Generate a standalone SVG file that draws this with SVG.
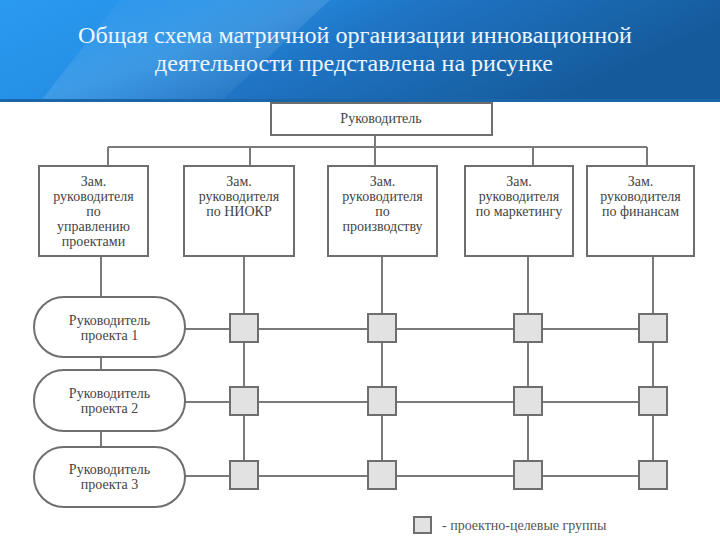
<svg xmlns="http://www.w3.org/2000/svg" width="720" height="540" viewBox="0 0 720 540">
<defs>
<linearGradient id="hdr" x1="0" y1="0" x2="1" y2="0.3">
<stop offset="0" stop-color="#2a9af0"/>
<stop offset="0.3" stop-color="#2590e6"/>
<stop offset="0.55" stop-color="#1f74c4"/>
<stop offset="1" stop-color="#155a9a"/>
</linearGradient>
<linearGradient id="shine" x1="0" y1="0" x2="1" y2="1">
<stop offset="0" stop-color="#ffffff" stop-opacity="0"/>
<stop offset="0.5" stop-color="#ffffff" stop-opacity="0.12"/>
<stop offset="1" stop-color="#ffffff" stop-opacity="0"/>
</linearGradient>
<style>
.box{fill:#fff;stroke:#6e6e6e;stroke-width:2}
.pill{fill:#fff;stroke:#6e6e6e;stroke-width:2}
.sq{fill:#e2e2e2;stroke:#6e6e6e;stroke-width:2}
.ln{stroke:#7a7a7a;stroke-width:2;fill:none}
text{font-family:'Liberation Serif','Times New Roman','DejaVu Serif',serif}
.t{font-size:14px;fill:#444;text-anchor:middle}
.tp{font-size:14px;fill:#444;text-anchor:middle}
.title{font-size:23px;fill:#eef6ff;text-anchor:middle}
</style>
</defs>
<rect x="0" y="0" width="720" height="540" fill="#ffffff"/>
<g id="header">
<rect x="0" y="0" width="720" height="102" fill="url(#hdr)"/>
<polygon points="120,0 330,0 220,102 40,102" fill="url(#shine)"/>
<rect x="0" y="99" width="720" height="3" fill="#1a66a8"/>
<text class="title" x="355" y="43" textLength="554" lengthAdjust="spacingAndGlyphs">Общая схема матричной организации инновационной</text>
<text class="title" x="354" y="71" textLength="398" lengthAdjust="spacingAndGlyphs">деятельности представлена на рисунке</text>
</g>
<g id="connectors">
<line class="ln" x1="375" y1="135" x2="375" y2="147"/>
<line class="ln" x1="108" y1="147" x2="647" y2="147"/>
<line class="ln" x1="108" y1="147" x2="108" y2="166"/>
<line class="ln" x1="250" y1="147" x2="250" y2="166"/>
<line class="ln" x1="375" y1="147" x2="375" y2="166"/>
<line class="ln" x1="533" y1="147" x2="533" y2="166"/>
<line class="ln" x1="647" y1="147" x2="647" y2="166"/>
<line class="ln" x1="101" y1="256" x2="101" y2="297"/>
<line class="ln" x1="101" y1="357" x2="101" y2="370"/>
<line class="ln" x1="101" y1="431" x2="101" y2="447"/>
<line class="ln" x1="244" y1="256" x2="244" y2="475"/>
<line class="ln" x1="382" y1="256" x2="382" y2="475"/>
<line class="ln" x1="528" y1="256" x2="528" y2="475"/>
<line class="ln" x1="653" y1="256" x2="653" y2="475"/>
<line class="ln" x1="185" y1="329" x2="653" y2="329"/>
<line class="ln" x1="185" y1="402" x2="653" y2="402"/>
<line class="ln" x1="185" y1="476" x2="653" y2="476"/>
</g>
<g id="head">
<rect class="box" x="271" y="103" width="221" height="32"/>
<text class="t" x="381" y="123">Руководитель</text>
</g>
<g id="dep1">
<rect class="box" x="39" y="166" width="109" height="90"/>
<text class="t" x="93.5" y="186">Зам.</text>
<text class="t" x="93.5" y="201">руководителя</text>
<text class="t" x="93.5" y="216">по</text>
<text class="t" x="93.5" y="231">управлению</text>
<text class="t" x="93.5" y="246">проектами</text>
</g>
<g id="dep2">
<rect class="box" x="184" y="166" width="110" height="90"/>
<text class="t" x="239" y="186">Зам.</text>
<text class="t" x="239" y="201">руководителя</text>
<text class="t" x="239" y="216">по НИОКР</text>
</g>
<g id="dep3">
<rect class="box" x="328" y="166" width="109" height="90"/>
<text class="t" x="382.5" y="186">Зам.</text>
<text class="t" x="382.5" y="201">руководителя</text>
<text class="t" x="382.5" y="216">по</text>
<text class="t" x="382.5" y="231">производству</text>
</g>
<g id="dep4">
<rect class="box" x="465" y="166" width="108" height="90"/>
<text class="t" x="519" y="186">Зам.</text>
<text class="t" x="519" y="201">руководителя</text>
<text class="t" x="519" y="216">по маркетингу</text>
</g>
<g id="dep5">
<rect class="box" x="587" y="166" width="107" height="90"/>
<text class="t" x="640.5" y="186">Зам.</text>
<text class="t" x="640.5" y="201">руководителя</text>
<text class="t" x="640.5" y="216">по финансам</text>
</g>
<g id="pm1">
<rect class="pill" x="34" y="297" width="151" height="60" rx="30" ry="30"/>
<text class="tp" x="109.5" y="325">Руководитель</text>
<text class="tp" x="109.5" y="340">проекта 1</text>
</g>
<g id="pm2">
<rect class="pill" x="34" y="370" width="151" height="61" rx="30" ry="30"/>
<text class="tp" x="109.5" y="398">Руководитель</text>
<text class="tp" x="109.5" y="413">проекта 2</text>
</g>
<g id="pm3">
<rect class="pill" x="34" y="447" width="151" height="60" rx="30" ry="30"/>
<text class="tp" x="109.5" y="474">Руководитель</text>
<text class="tp" x="109.5" y="489">проекта 3</text>
</g>
<g id="groups">
<rect class="sq" x="230" y="314" width="28" height="28"/>
<rect class="sq" x="368" y="314" width="28" height="28"/>
<rect class="sq" x="514" y="314" width="28" height="28"/>
<rect class="sq" x="639" y="314" width="28" height="28"/>
<rect class="sq" x="230" y="387" width="28" height="28"/>
<rect class="sq" x="368" y="387" width="28" height="28"/>
<rect class="sq" x="514" y="387" width="28" height="28"/>
<rect class="sq" x="639" y="387" width="28" height="28"/>
<rect class="sq" x="230" y="461" width="28" height="28"/>
<rect class="sq" x="368" y="461" width="28" height="28"/>
<rect class="sq" x="514" y="461" width="28" height="28"/>
<rect class="sq" x="639" y="461" width="28" height="28"/>
</g>
<g id="legend">
<rect class="sq" x="414" y="517" width="17" height="16" stroke-width="1.5"/>
<text x="442" y="530" font-size="14" fill="#555">- проектно-целевые группы</text>
</g>
</svg>
